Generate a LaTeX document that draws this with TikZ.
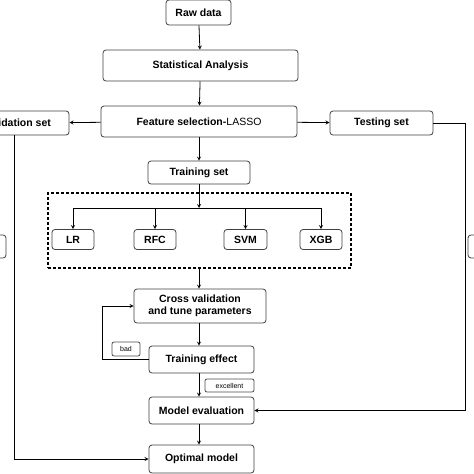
\documentclass[tikz,border=0pt]{standalone}
\usepackage{fontspec}
\setmainfont{Liberation Sans}
\usepackage{tikz}
\usetikzlibrary{positioning}

\tikzset{
  stage/.style={draw=black!75, rounded corners=3pt, fill=white, align=center,
    inner sep=0pt, font=\bfseries\fontsize{10.5}{12}\selectfont},
  tag/.style={draw=black!70, rounded corners=2pt, fill=white, inner sep=0pt,
    font=\fontsize{7}{8}\selectfont},
}

\begin{document}
\begin{tikzpicture}[x=1pt, y=-1pt, >=stealth, line width=0.8pt]

   \useasboundingbox (0,0) rectangle (474,474);
   \clip (0,0) rectangle (474,474);

   % main column
   \node[stage, minimum width=65, minimum height=25] (raw) at (198.5,12.5) {Raw data};
   \node[stage, minimum width=195, minimum height=31] (stats) at (200.5,65.5) {Statistical Analysis};
   \node[stage, minimum width=196, minimum height=31] (lasso) at (199,121.5) {Feature selection-{\mdseries LASSO}};
   \node[stage, minimum width=104, minimum height=24] (valid) at (17,123) {Validation set};
   \node[stage, minimum width=103, minimum height=24] (test) at (381.5,123) {Testing set};
   \node[stage, minimum width=102, minimum height=23] (train) at (199,172.5) {Training set};

   % models
   \node[draw, dash pattern=on 3pt off 2pt, line width=1.2pt, minimum width=303, minimum height=75, inner sep=0pt] (models) at (199.5,230.5) {};
   \node[stage, minimum width=42, minimum height=20] (lr) at (73,239.5) {LR};
   \node[stage, minimum width=42, minimum height=20] (rfc) at (155,239.5) {RFC};
   \node[stage, minimum width=43, minimum height=20] (svm) at (245.5,239.5) {SVM};
   \node[stage, minimum width=42, minimum height=20] (xgb) at (321,239.5) {XGB};
   \coordinate (split) at (199,208);

   % boxes cut by the frame
   \node[stage, minimum width=60, minimum height=23] (leftcut) at (-24,246.5) {};
   \node[stage, minimum width=60, minimum height=23] (rightcut) at (498,246.5) {};

   \node[stage, minimum width=132, minimum height=34] (cv) at (200,306) {Cross validation\\and tune parameters};
   \node[stage, minimum width=105, minimum height=27] (effect) at (201.5,359.5) {Training effect};
   \node[tag, minimum width=28, minimum height=14] (bad) at (126,349) {bad};
   \node[tag, minimum width=49, minimum height=13] (good) at (229.5,385.5) {excellent};
   \node[stage, minimum width=105, minimum height=27] (eval) at (201.5,410.5) {Model evaluation};
   \node[stage, minimum width=105, minimum height=28] (optimal) at (201.5,459) {Optimal model};

   \coordinate (leftrail) at (14,0);
   \coordinate (rightrail) at (465,0);

   % connectors
   \draw[->] (raw) -- (stats);
   \draw[->] (stats) -- (lasso);
   \draw[->] (lasso) -- (valid);
   \draw[->] (lasso) -- (test);
   \draw[->] (lasso) -- (train);
   \draw[->] (train) -- (split);
   \draw (split -| lr) -- (split -| xgb);
   \foreach \m in {lr,rfc,svm,xgb}
     \draw[->] (split -| \m) -- (\m);
   \draw[->] (models.south -| split) -- (split |- cv.north);
   \draw[->] (cv.south -| split) -- (split |- effect.north);
   \draw[->] (effect.west) -- ++(-46,0) |- (cv.west);
   \draw[->] (effect.south -| split) -- (split |- eval.north);
   \draw[->] (eval.south -| split) -- (split |- optimal.north);
   \draw[->] (test.east) -| (rightrail |- eval.east) -- (eval.east);
   \draw[->] (valid.south -| leftrail) -- (leftrail |- optimal.west) -- (optimal.west);

\end{tikzpicture}
\end{document}
